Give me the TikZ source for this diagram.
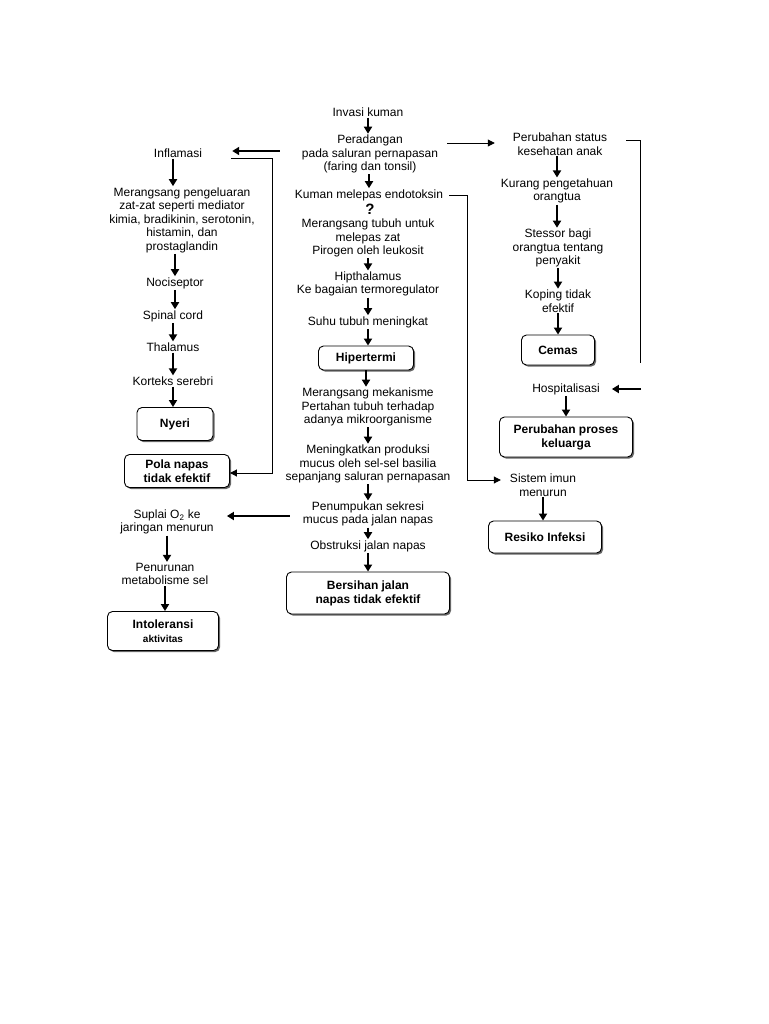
\documentclass[tikz,border=0pt]{standalone}
\usepackage{fontspec}
\setmainfont{Liberation Sans}
\usetikzlibrary{arrows.meta,shadows}

\begin{document}
\begin{tikzpicture}[x=1pt,y=-1pt,
  txt/.style={align=center,inner sep=1pt,font=\fontsize{12}{13.5}\selectfont},
  box/.style={draw,rounded corners=5pt,line width=0.9pt,fill=white,align=center,inner sep=2pt,
    font=\bfseries\fontsize{12}{14}\selectfont,
    drop shadow={shadow xshift=1.6pt,shadow yshift=-1.6pt,fill=black!60,opacity=1}},
  arr/.style={line width=1.8pt,-{Triangle[length=7pt,width=8pt]}},
  link/.style={line width=0.9pt},
  linkarr/.style={line width=0.9pt,-{Triangle[length=7pt,width=7pt]}}]
\useasboundingbox (0,0) rectangle (768,1024);

\node[txt] (inv) at (368,112) {Invasi kuman};
\node[txt] (rad) at (370,154) {Peradangan\\pada saluran pernapasan\\(faring dan tonsil)};
\node[txt] (endo) at (369,195) {Kuman melepas endotoksin};
\node[inner sep=0pt,font=\bfseries\fontsize{15}{15}\selectfont] (tanya) at (370,209) {?};
\node[txt] (pirogen) at (368,238) {Merangsang tubuh untuk\\melepas zat\\Pirogen oleh leukosit};
\node[txt] (hipo) at (368,284) {Hipthalamus\\Ke bagaian termoregulator};
\node[txt] (suhu) at (368,322) {Suhu tubuh meningkat};
\node[box,minimum width=95pt,minimum height=24pt] (hiper) at (366,358) {Hipertermi};
\node[txt] (mek) at (368,407) {Merangsang mekanisme\\Pertahan tubuh terhadap\\adanya mikroorganisme};
\node[txt] (mucus) at (368,464) {Meningkatkan produksi\\mucus oleh sel-sel basilia\\sepanjang saluran pernapasan};
\node[txt] (tumpuk) at (368,514) {Penumpukan sekresi\\mucus pada jalan napas};
\node[txt] (obs) at (368,546) {Obstruksi jalan napas};
\node[box,minimum width=163pt,minimum height=42pt] (bersih) at (368,593) {Bersihan jalan\\napas tidak efektif};

\node[txt] (inflam) at (178,153) {Inflamasi};
\node[txt] (mediator) at (182,220) {Merangsang pengeluaran\\zat-zat seperti mediator\\kimia, bradikinin, serotonin,\\histamin, dan\\prostaglandin};
\node[txt] (noci) at (175,283) {Nociseptor};
\node[txt] (spinal) at (173,316) {Spinal cord};
\node[txt] (thal) at (173,347) {Thalamus};
\node[txt] (korteks) at (173,381) {Korteks serebri};
\node[box,minimum width=76pt,minimum height=33pt] (nyeri) at (175,424) {Nyeri};
\node[box,minimum width=105pt,minimum height=33pt] (pola) at (177,471) {Pola napas\\tidak efektif};
\node[txt] (suplai) at (167,522) {Suplai O\textsubscript{2} ke\\jaringan menurun};
\node[txt] (metab) at (165,574) {Penurunan\\metabolisme sel};
\node[box,minimum width=111pt,minimum height=39pt] (intol) at (163,631) {Intoleransi\\{\fontsize{10}{12}\selectfont aktivitas}};

\node[txt] (status) at (560,144) {Perubahan status\\kesehatan anak};
\node[txt] (kurang) at (557,191) {Kurang pengetahuan\\orangtua};
\node[txt] (stressor) at (558,248) {Stessor bagi\\orangtua tentang\\penyakit};
\node[txt] (koping) at (558,301) {Koping tidak\\efektif};
\node[box,minimum width=73pt,minimum height=30pt] (cemas) at (558,350) {Cemas};
\node[txt] (hosp) at (566,389) {Hospitalisasi};
\node[box,minimum width=133pt,minimum height=40pt] (proses) at (566,437) {Perubahan proses\\keluarga};
\node[txt] (imun) at (543,485) {Sistem imun\\menurun};
\node[box,minimum width=113pt,minimum height=32pt] (resiko) at (545,537) {Resiko Infeksi};

\coordinate (polaA) at (231,158);
\coordinate (kanan) at (640,363);
\coordinate (hospR) at (641,389);

\draw[arr] (inv.south) -- (inv.south |- rad.north);
\draw[arr] (rad.south -| endo) -- (endo.north);
\draw[arr] (pirogen.south) -- (pirogen.south |- hipo.north);
\draw[arr] (hipo.south) -- (hipo.south |- suhu.north);
\draw[arr] (suhu.south) -- (suhu.south |- hiper.north);
\draw[arr] (hiper.south) -- (hiper.south |- mek.north);
\draw[arr] (mek.south) -- (mek.south |- mucus.north);
\draw[arr] (mucus.south) -- (mucus.south |- tumpuk.north);
\draw[arr] (tumpuk.south) -- (tumpuk.south |- obs.north);
\draw[arr] (obs.south) -- (obs.south |- bersih.north);

\draw[arr] (inflam.south -| korteks) -- (korteks |- mediator.north);
\draw[arr] (mediator.south -| noci) -- (noci.north);
\draw[arr] (noci.south) -- (noci.south |- spinal.north);
\draw[arr] (spinal.south) -- (spinal.south |- thal.north);
\draw[arr] (thal.south) -- (thal.south |- korteks.north);
\draw[arr] (korteks.south) -- (korteks.south |- nyeri.north);
\draw[arr] (suplai.south) -- (suplai.south |- metab.north);
\draw[arr] (metab.south) -- (metab.south |- intol.north);

\draw[arr] (status.south -| kurang) -- (kurang.north);
\draw[arr] (kurang.south) -- (kurang.south |- stressor.north);
\draw[arr] (stressor.south) -- (stressor.south |- koping.north);
\draw[arr] (koping.south) -- (koping.south |- cemas.north);
\draw[arr] (hosp.south) -- (hosp.south |- proses.north);
\draw[arr] (imun.south) -- (imun.south |- resiko.north);

\draw[arr,line width=2.6pt] ([shift={(-21,-3)}]rad.west) -- ([shift={(29,-2)}]inflam.east);
\draw[linkarr] ([shift={(8,-11)}]rad.east) -- ([shift={(-17,-1)}]status.west);
\draw[linkarr] (polaA) -- ++(41,0) |- ([yshift=-2pt]pola.east);
\draw[linkarr] ([xshift=5pt]endo.east) -- ++(18,0) |- ([shift={(-8,-5)}]imun.west);
\draw[link] ([shift={(18,-4)}]status.east) -| (kanan);
\draw[arr] (hospR) -- ([xshift=11pt]hosp.east);
\draw[arr] ([shift={(-12,2)}]tumpuk.west) -- ([shift={(12,-6)}]suplai.east);

\end{tikzpicture}
\end{document}
